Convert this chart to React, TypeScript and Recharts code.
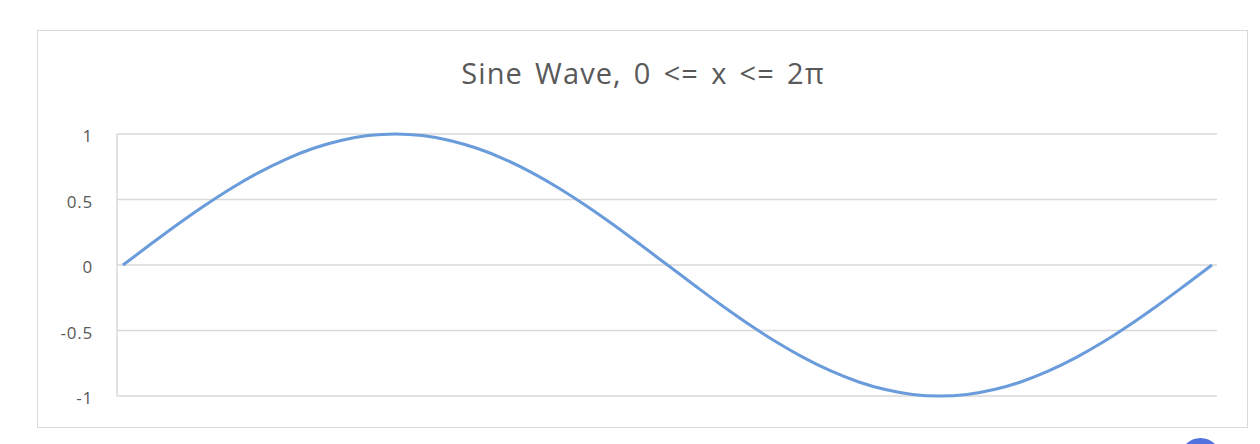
import React from "react";
import { LineChart, Line, XAxis, YAxis, CartesianGrid } from "recharts";

// x steps of 2π/40, sine values
const xSteps = [
  "0", "1", "2", "3", "4", "5", "6", "7", "8", "9", "10",
  "11", "12", "13", "14", "15", "16", "17", "18", "19", "20",
  "21", "22", "23", "24", "25", "26", "27", "28", "29", "30",
  "31", "32", "33", "34", "35", "36", "37", "38", "39", "40",
];

const sineValues = [
  0, 0.156, 0.309, 0.454, 0.588, 0.707, 0.809, 0.891, 0.951, 0.988, 1,
  0.988, 0.951, 0.891, 0.809, 0.707, 0.588, 0.454, 0.309, 0.156, 0,
  -0.156, -0.309, -0.454, -0.588, -0.707, -0.809, -0.891, -0.951, -0.988, -1,
  -0.988, -0.951, -0.891, -0.809, -0.707, -0.588, -0.454, -0.309, -0.156, 0,
];

const yTicks = [-1, -0.5, 0, 0.5, 1];

const chartData = xSteps.map((x, i) => ({ x, y: sineValues[i] }));

const FONT = "'Open Sans', 'Liberation Sans', sans-serif";
const GRAY = "#595959";
const GRID = "#d9d9d9";

const App = () => {
  return (
    <div
      style={{
        position: "absolute",
        left: 0,
        top: 0,
        width: 1260,
        height: 444,
        background: "#fff",
        overflow: "hidden",
        fontFamily: FONT,
      }}
    >
      <div
        style={{
          position: "absolute",
          left: 37,
          top: 30,
          width: 1209,
          height: 396,
          border: `1px solid ${GRID}`,
        }}
      />
      <div
        style={{
          position: "absolute",
          left: 0,
          width: 1286,
          top: 56,
          textAlign: "center",
          fontSize: 29,
          letterSpacing: 1.1,
          wordSpacing: 3.5,
          color: GRAY,
          lineHeight: "34px",
        }}
      >
        Sine Wave, 0 &lt;= x &lt;= 2π
      </div>
      <div style={{ position: "absolute", left: 0, top: 0 }}>
        <LineChart
          width={1260}
          height={444}
          data={chartData}
          margin={{ top: 134, right: 43, bottom: 48, left: 57 }}
        >
          <CartesianGrid vertical={false} stroke={GRID} strokeWidth={1.5} />
          <XAxis dataKey="x" hide padding={{ left: 6, right: 5 }} />
          <YAxis
            width={60}
            domain={[-1, 1]}
            ticks={yTicks}
            interval={0}
            axisLine={{ stroke: GRID, strokeWidth: 1.5 }}
            tickLine={false}
            tickMargin={18}
            tick={{ fill: GRAY, fontSize: 17, fontFamily: FONT, letterSpacing: 0.8, dy: 2 }}
          />
          <Line
            type="monotone"
            dataKey="y"
            stroke="#6a9bdb"
            strokeWidth={3}
            dot={false}
            isAnimationActive={false}
          />
        </LineChart>
      </div>
      <div
        style={{
          position: "absolute",
          left: 1180,
          top: 438,
          width: 41,
          height: 41,
          borderRadius: "50%",
          background: "#5073e0",
        }}
      />
    </div>
  );
};

export default App;
